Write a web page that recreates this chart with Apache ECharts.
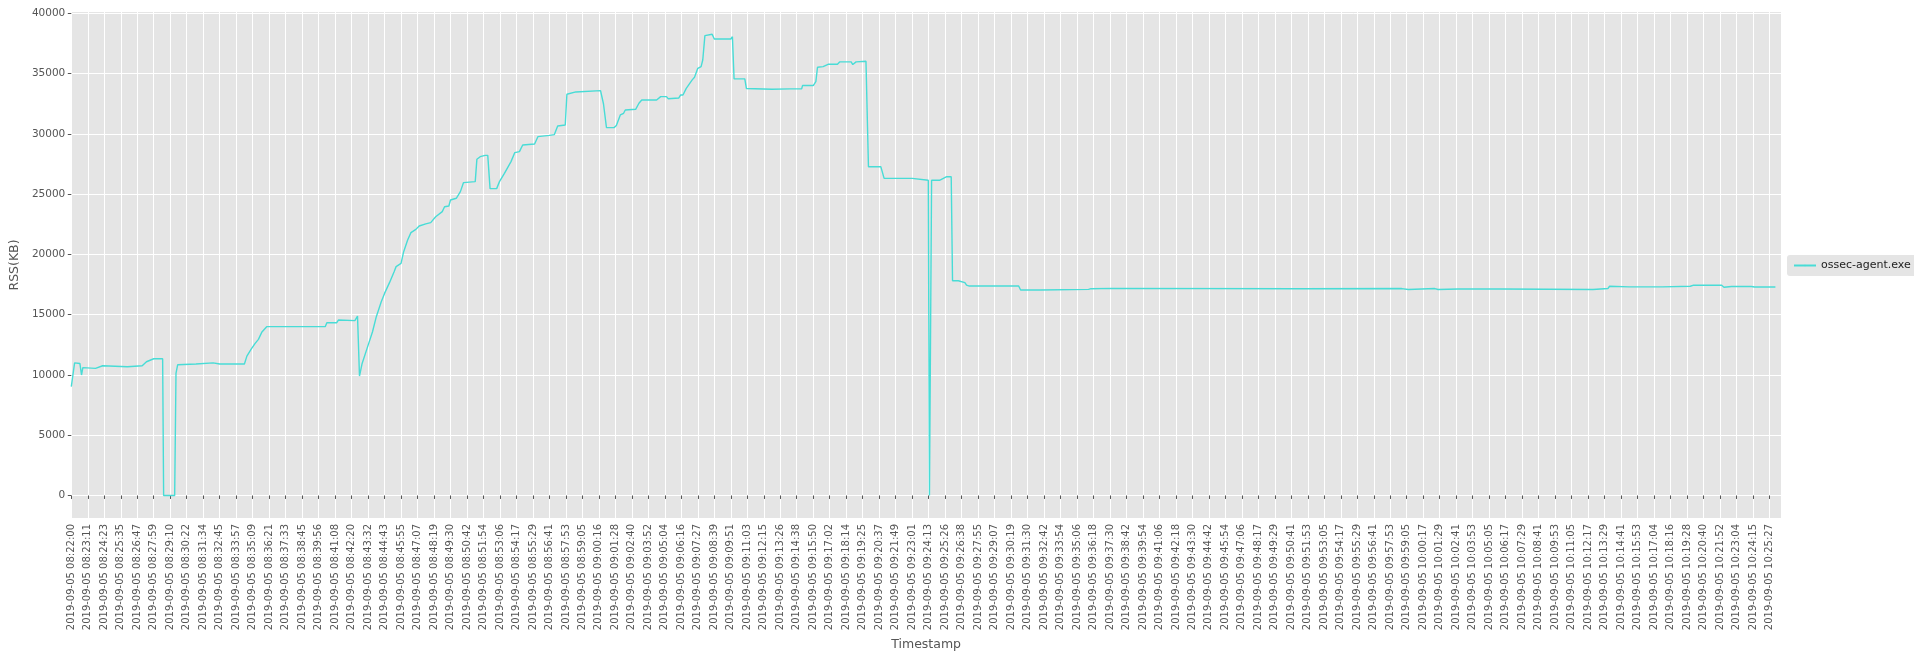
<!DOCTYPE html>
<html>
<head>
<meta charset="utf-8">
<script src="https://cdn.jsdelivr.net/npm/echarts@6/dist/echarts.min.js"></script>
<style>
html,body{margin:0;padding:0;background:#fff;}
#main{width:1914px;height:659px;}
</style>
</head>
<body>
<div id="main"></div>
<script>
// tick labels, one per index on the x axis
var tickTimes = [
 '08:22:00','08:23:11','08:24:23','08:25:35','08:26:47','08:27:59','08:29:10','08:30:22','08:31:34','08:32:45',
 '08:33:57','08:35:09','08:36:21','08:37:33','08:38:45','08:39:56','08:41:08','08:42:20','08:43:32','08:44:43',
 '08:45:55','08:47:07','08:48:19','08:49:30','08:50:42','08:51:54','08:53:06','08:54:17','08:55:29','08:56:41',
 '08:57:53','08:59:05','09:00:16','09:01:28','09:02:40','09:03:52','09:05:04','09:06:16','09:07:27','09:08:39',
 '09:09:51','09:11:03','09:12:15','09:13:26','09:14:38','09:15:50','09:17:02','09:18:14','09:19:25','09:20:37',
 '09:21:49','09:23:01','09:24:13','09:25:26','09:26:38','09:27:55','09:29:07','09:30:19','09:31:30','09:32:42',
 '09:33:54','09:35:06','09:36:18','09:37:30','09:38:42','09:39:54','09:41:06','09:42:18','09:43:30','09:44:42',
 '09:45:54','09:47:06','09:48:17','09:49:29','09:50:41','09:51:53','09:53:05','09:54:17','09:55:29','09:56:41',
 '09:57:53','09:59:05','10:00:17','10:01:29','10:02:41','10:03:53','10:05:05','10:06:17','10:07:29','10:08:41',
 '10:09:53','10:11:05','10:12:17','10:13:29','10:14:41','10:15:53','10:17:04','10:18:16','10:19:28','10:20:40',
 '10:21:52','10:23:04','10:24:15','10:25:27'
];
var tickLabels = tickTimes.map(function(t){ return '2019-09-05 ' + t; });
var yTicks = [0, 5000, 10000, 15000, 20000, 25000, 30000, 35000, 40000];

// position (in tick units) and RSS value
var rssPos = [
 0,0.2,0.52,0.62,0.7,1.47,1.9,3.4,4.3,4.56,5.0,5.54,5.6,6.27,6.35,6.45,7.56,8.6,9.0,10.5,
 10.65,10.9,11.15,11.35,11.55,11.85,15.4,15.5,16.1,16.2,17.2,17.36,17.48,17.64,17.94,18.27,18.5,18.8,19.0,19.3,
 19.58,19.7,20.0,20.16,20.4,20.6,20.9,21.1,21.5,21.8,22.1,22.5,22.64,22.9,23.0,23.35,23.6,23.79,24.5,24.6,
 24.8,25.1,25.26,25.4,25.8,25.97,26.27,26.67,26.9,27.18,27.38,28.1,28.3,29.0,29.3,29.5,29.96,30.06,30.6,32.1,
 32.28,32.46,32.92,33.06,33.3,33.5,33.6,34.23,34.43,34.6,35.5,35.75,36.1,36.2,36.85,36.96,37.1,37.3,37.66,37.8,
 38.0,38.2,38.3,38.43,38.87,39.0,40.0,40.1,40.2,40.85,40.95,42.5,43.6,44.3,44.35,45.0,45.16,45.26,45.6,45.9,
 46.47,46.6,47.3,47.4,47.6,48.2,48.35,49.1,49.3,51.0,51.1,51.98,52.05,52.1,52.18,52.66,52.78,53.1,53.37,53.45,
 53.8,53.87,54.2,54.3,54.47,57.46,57.58,58.77,58.87,61.7,61.85,63.1,74.6,80.7,81.1,82.7,82.9,84.1,86.7,92.3,
 92.4,93.2,93.3,94.5,96.5,96.6,98.2,98.3,98.4,100.1,100.24,100.7,101.9,102.1,103.36
];
var rssValues = [
 9020,11000,10950,9990,10600,10540,10760,10680,10760,11090,11340,11340,0,0,10120,10840,10900,11000,10900,10900,
 11560,12110,12610,12950,13530,14000,14000,14330,14330,14550,14500,14880,9900,10950,12200,13580,14830,16070,16760,17650,
 18560,18980,19250,20220,21190,21800,22070,22350,22520,22630,23120,23540,23950,24010,24510,24650,25200,25950,26030,27880,
 28100,28210,28210,25450,25450,26030,26720,27690,28440,28520,29070,29150,29760,29870,29930,30650,30730,33280,33470,33580,
 32470,30510,30510,30680,31560,31700,31970,32030,32530,32800,32800,33080,33080,32910,32970,33220,33220,33770,34470,34680,
 35430,35570,36120,38140,38250,37860,37860,38050,34550,34550,33750,33690,33720,33720,34000,34000,34330,35520,35570,35760,
 35760,35960,35960,35740,35960,36010,27270,27270,26300,26300,26140,26140,0,0,26140,26140,26300,26440,26440,17810,
 17810,17650,17650,17450,17370,17370,17040,17040,17090,17090,17150,17180,17150,17160,17080,17160,17080,17130,17130,17080,
 17160,17160,17350,17300,17300,17350,17350,17300,17440,17440,17270,17330,17330,17290,17290
];

var seriesData = rssPos.map(function(p, i){ return [p, rssValues[i]]; });

var myChart = echarts.init(document.getElementById('main'));
var option = {
	animation: false,
	textStyle: {fontFamily: 'DejaVu Sans'},
	grid: {left: 67, right: 133, top: 12, bottom: 141, show: true, backgroundColor: '#e5e5e5', borderWidth: 0},
	legend: {
		left: 1787, top: 255,
		backgroundColor: '#e5e5e5', borderRadius: 3, padding: [5, 8, 5, 6],
		itemWidth: 22, itemHeight: 2, itemGap: 4,
		textStyle: {fontSize: 11, color: '#222', fontFamily: 'DejaVu Sans'},
		data: ['ossec-agent.exe']
	},
	xAxis: {
		type: 'value', min: 0, max: 103.7, interval: 1,
		name: 'Timestamp', nameLocation: 'middle', nameGap: 118,
		nameTextStyle: {fontSize: 12.5, color: '#555'},
		axisLine: {show: false},
		axisTick: {show: true, length: 3.5, lineStyle: {color: '#555'}},
		axisLabel: {
			rotate: 90, fontSize: 10, color: '#555', margin: 6, showMaxLabel: false,
			formatter: function(v){ return tickLabels[Math.round(v)] || ''; }
		},
		splitLine: {show: true, lineStyle: {color: '#fff', width: 1}}
	},
	yAxis: {
		type: 'value', min: -1870, max: 40100,
		name: 'RSS(KB)', nameLocation: 'middle', nameGap: 50,
		nameTextStyle: {fontSize: 12.5, color: '#555'},
		axisLine: {show: false},
		axisTick: {show: true, length: 3.5, lineStyle: {color: '#555'}, customValues: yTicks},
		axisLabel: {fontSize: 10.5, color: '#555', margin: 6, customValues: yTicks,
			formatter: function(v){ return String(v); }},
		splitLine: {show: true, lineStyle: {color: '#fff', width: 1}}
	},
	series: [{
		name: 'ossec-agent.exe',
		type: 'line',
		data: seriesData,
		symbol: 'none',
		lineStyle: {color: '#48dcd6', width: 1.4},
		itemStyle: {color: '#48dcd6'}
	}]
};
myChart.setOption(option);
</script>
</body>
</html>
